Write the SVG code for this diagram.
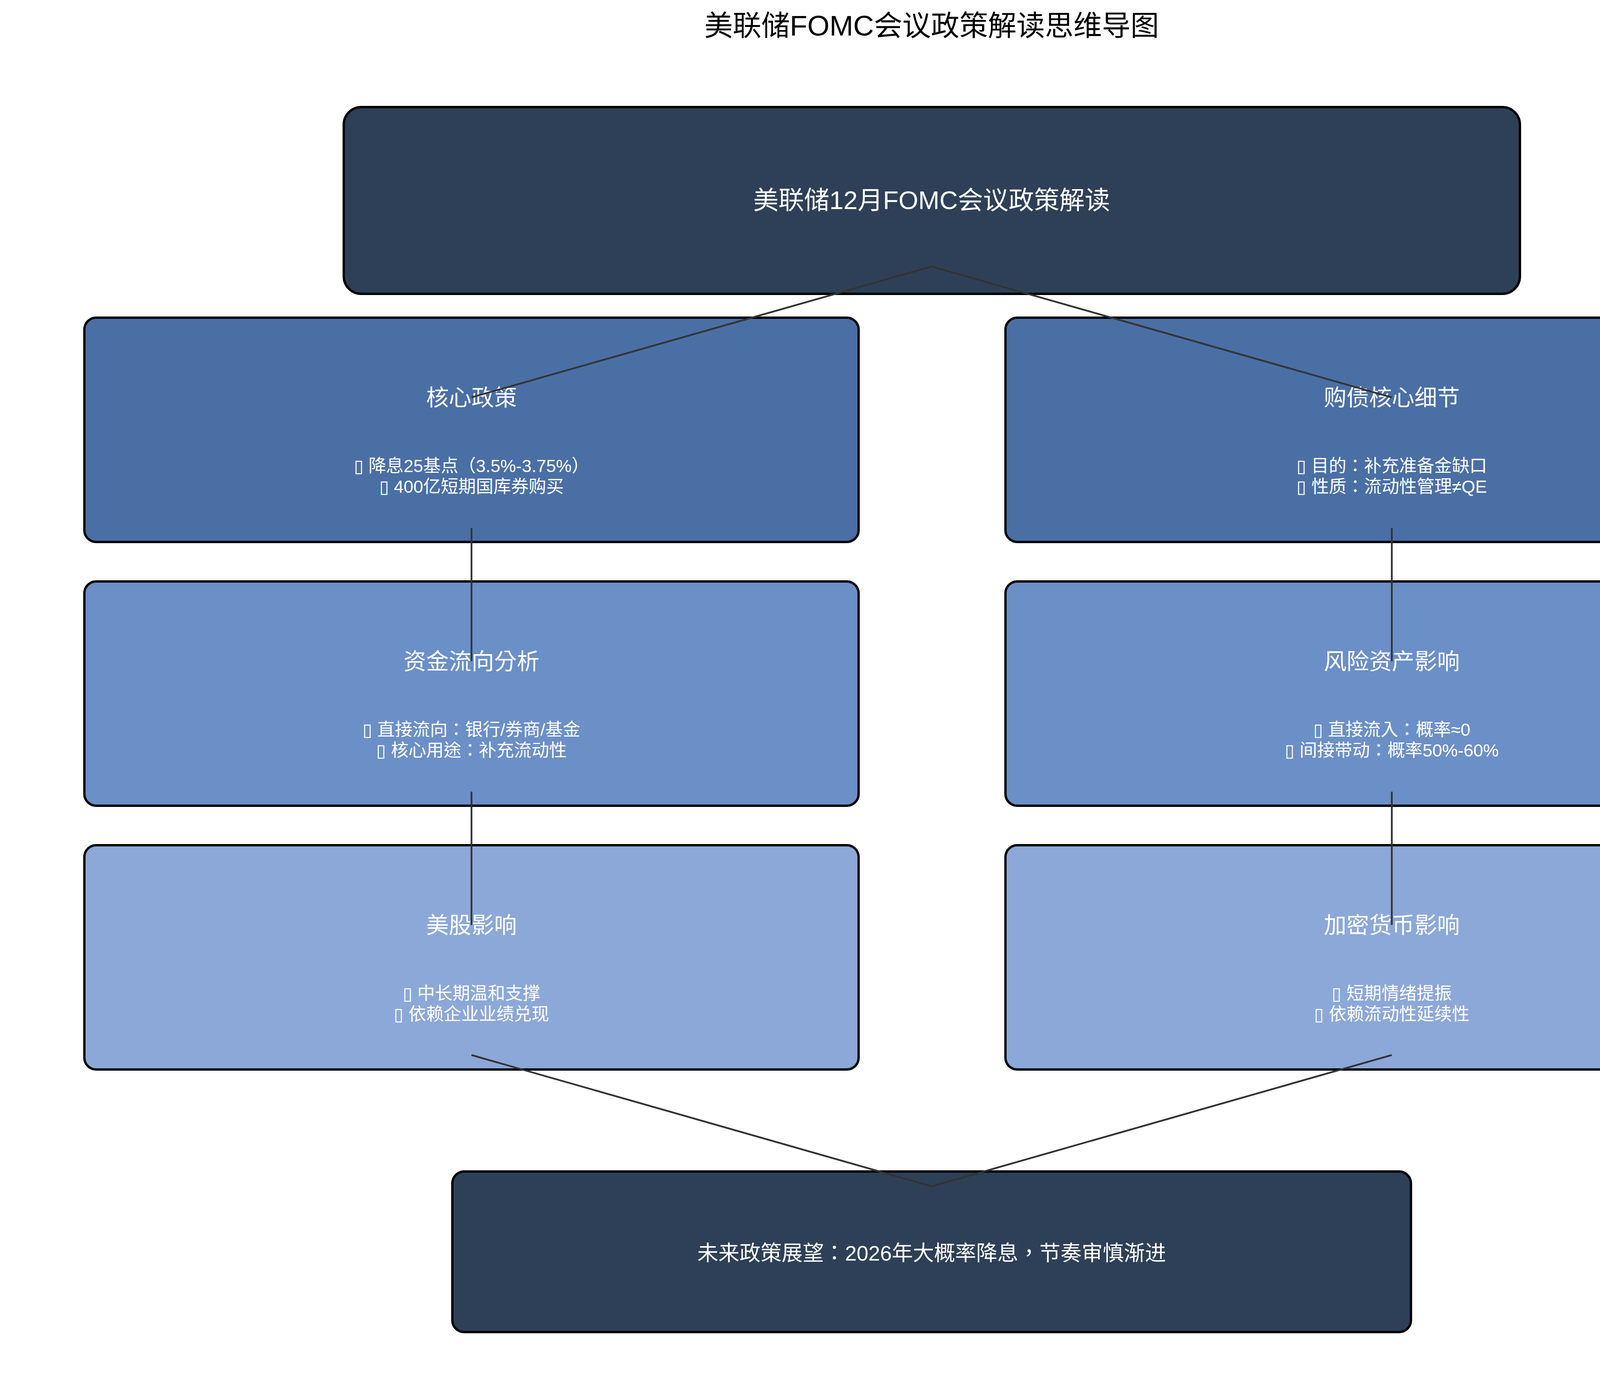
<svg xmlns="http://www.w3.org/2000/svg" width="4770" height="3570" viewBox="0 0 4770 3570">
<style>
.box{stroke:#000;stroke-width:6}
.dark{fill:#2E4057}
.l1{fill:#4A6FA5}
.l2{fill:#6B8FC7}
.l3{fill:#8CA8D8}
text{font-family:"Liberation Sans","Noto Sans CJK TC",sans-serif;text-anchor:middle;dominant-baseline:central}
.t{fill:#fff;font-size:58px}
.b{fill:#fff;font-size:45px}
.conn line{stroke:#333;stroke-width:4.5;fill:none}
</style>
<rect width="4770" height="3570" fill="#fff"/>
<text x="2385" y="65" font-size="73" fill="#000">美联储FOMC会议政策解读思维导图</text>
<g id="node-root">
<rect class="box dark" x="880" y="274" width="3011" height="478" rx="45"/>
<text x="2385" y="512" fill="#fff" font-size="65">美联储12月FOMC会议政策解读</text>
</g>
<g id="node-core-policy">
<rect class="box l1" x="216" y="813" width="1982" height="574" rx="30"/>
<text class="t" x="1207" y="1017">核心政策</text>
<text class="b" x="1207" y="1192">▯ 降息25基点（3.5%-3.75%）</text>
<text class="b" x="1207" y="1245">▯ 400亿短期国库券购买</text>
</g>
<g id="node-bond-detail">
<rect class="box l1" x="2574" y="813" width="1980" height="574" rx="30"/>
<text class="t" x="3563" y="1017">购债核心细节</text>
<text class="b" x="3563" y="1192">▯ 目的：补充准备金缺口</text>
<text class="b" x="3563" y="1245">▯ 性质：流动性管理≠QE</text>
</g>
<g id="node-fund-flow">
<rect class="box l2" x="216" y="1488" width="1982" height="574" rx="30"/>
<text class="t" x="1207" y="1692">资金流向分析</text>
<text class="b" x="1207" y="1867">▯ 直接流向：银行/券商/基金</text>
<text class="b" x="1207" y="1920">▯ 核心用途：补充流动性</text>
</g>
<g id="node-risk-asset">
<rect class="box l2" x="2574" y="1488" width="1980" height="574" rx="30"/>
<text class="t" x="3563" y="1692">风险资产影响</text>
<text class="b" x="3563" y="1867">▯ 直接流入：概率≈0</text>
<text class="b" x="3563" y="1920">▯ 间接带动：概率50%-60%</text>
</g>
<g id="node-us-stock">
<rect class="box l3" x="216" y="2163" width="1982" height="574" rx="30"/>
<text class="t" x="1207" y="2367">美股影响</text>
<text class="b" x="1207" y="2542">▯ 中长期温和支撑</text>
<text class="b" x="1207" y="2595">▯ 依赖企业业绩兑现</text>
</g>
<g id="node-crypto">
<rect class="box l3" x="2574" y="2163" width="1980" height="574" rx="30"/>
<text class="t" x="3563" y="2367">加密货币影响</text>
<text class="b" x="3563" y="2542">▯ 短期情绪提振</text>
<text class="b" x="3563" y="2595">▯ 依赖流动性延续性</text>
</g>
<g id="node-outlook">
<rect class="box dark" x="1158" y="2998" width="2454" height="411" rx="30"/>
<text x="2385" y="3207" fill="#fff" font-size="54">未来政策展望：2026年大概率降息，节奏审慎渐进</text>
</g>
<g id="connectors" class="conn">
<line x1="2385" y1="682" x2="1207" y2="1017"/>
<line x1="2385" y1="682" x2="3563" y2="1017"/>
<line x1="1207" y1="1351" x2="1207" y2="1692"/>
<line x1="1207" y1="2026" x2="1207" y2="2367"/>
<line x1="3563" y1="1351" x2="3563" y2="1692"/>
<line x1="3563" y1="2026" x2="3563" y2="2367"/>
<line x1="1207" y1="2700" x2="2385" y2="3036"/>
<line x1="3563" y1="2700" x2="2385" y2="3036"/>
</g>
<g id="watermark" opacity="0.5">
<polygon points="4561,3531 4574,3544 4561,3557 4548,3544" fill="none" stroke="#9fb0cc" stroke-width="2"/>
<polygon points="4561,3538 4567,3544 4561,3550 4555,3544" fill="none" stroke="#9fb0cc" stroke-width="2"/>
<text x="4578" y="3544" font-size="23" fill="#9aa4b8" style="text-anchor:start">@绣虎_全科门诊</text>
</g>
</svg>
